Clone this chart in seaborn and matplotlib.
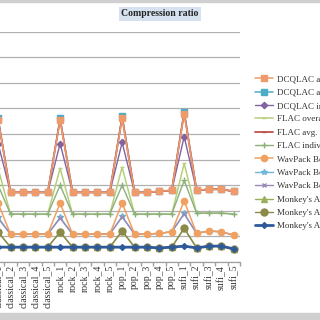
import seaborn as sns
import matplotlib.pyplot as plt
import matplotlib.patches as mpatches
import numpy as np

# categories (x axis)
categories = ['classical_1', 'classical_2', 'classical_3', 'classical_4', 'classical_5',
              'rock_1', 'rock_2', 'rock_3', 'rock_4', 'rock_5',
              'pop_1', 'pop_2', 'pop_3', 'pop_4', 'pop_5',
              'sufi_1', 'sufi_2', 'sufi_3', 'sufi_4', 'sufi_5']

# series values
dcqlac_all = [5.55, 2.72, 2.72, 2.72, 2.72, 5.55, 2.72, 2.72, 2.72, 2.72,
              5.62, 2.72, 2.72, 2.76, 2.80, 5.80, 2.80, 2.84, 2.84, 2.76]
dcqlac_avg = [5.62, 2.72, 2.72, 2.72, 2.72, 5.62, 2.72, 2.72, 2.72, 2.72,
              5.70, 2.72, 2.72, 2.76, 2.80, 5.88, 2.80, 2.84, 2.84, 2.76]
dcqlac_ind = [4.63, 2.72, 2.72, 2.72, 2.72, 4.63, 2.72, 2.72, 2.72, 2.72,
              4.67, 2.72, 2.72, 2.76, 2.80, 4.90, 2.80, 2.84, 2.84, 2.76]
flac_overall = [3.66, 1.87, 1.87, 1.87, 1.87, 3.66, 1.87, 1.87, 1.87, 1.87,
                3.70, 1.87, 1.87, 1.87, 1.87, 3.85, 1.91, 1.91, 1.91, 1.87]
flac_avg = [5.58, 2.72, 2.72, 2.72, 2.72, 5.58, 2.72, 2.72, 2.72, 2.72,
            5.66, 2.72, 2.72, 2.76, 2.80, 5.84, 2.80, 2.84, 2.84, 2.76]
flac_ind = [3.00, 1.87, 1.87, 1.87, 1.87, 3.00, 1.87, 1.87, 1.87, 1.87,
            3.00, 1.87, 1.87, 1.87, 1.87, 3.19, 1.91, 1.91, 1.91, 1.87]
wav_overall = [2.30, 1.09, 1.09, 1.09, 1.09, 2.30, 1.09, 1.09, 1.09, 1.09,
               2.30, 1.09, 1.09, 1.12, 1.18, 2.39, 1.12, 1.21, 1.18, 1.05]
wav_avg = [1.74, 1.09, 1.09, 1.09, 1.09, 1.74, 1.09, 1.09, 1.09, 1.09,
           1.78, 1.09, 1.09, 1.12, 1.18, 1.90, 1.12, 1.21, 1.18, 1.05]
wav_ind = [1.71, 1.09, 1.09, 1.09, 1.09, 1.71, 1.09, 1.09, 1.09, 1.09,
           1.76, 1.09, 1.09, 1.12, 1.18, 1.88, 1.12, 1.21, 1.18, 1.05]
mac_overall = [1.17, 0.58, 0.58, 0.58, 0.58, 1.17, 0.58, 0.58, 0.58, 0.58,
               1.21, 0.58, 0.58, 0.55, 0.58, 1.32, 0.55, 0.62, 0.62, 0.51]
mac_avg = [1.17, 0.58, 0.58, 0.58, 0.58, 1.17, 0.58, 0.58, 0.58, 0.58,
           1.21, 0.58, 0.58, 0.55, 0.58, 1.32, 0.55, 0.62, 0.62, 0.51]
mac_ind = [0.58, 0.58, 0.58, 0.58, 0.58, 0.58, 0.58, 0.58, 0.58, 0.58,
           0.58, 0.58, 0.58, 0.55, 0.58, 0.62, 0.55, 0.62, 0.62, 0.51]

series_names = ['DCQLAC all files', 'DCQLAC avg.', 'DCQLAC individual',
                'FLAC overall', 'FLAC avg.', 'FLAC individual',
                'WavPack Best overall', 'WavPack Best avg.', 'WavPack Best individual',
                "Monkey's Audio overall", "Monkey's Audio avg.", "Monkey's Audio individual"]
series_values = [dcqlac_all, dcqlac_avg, dcqlac_ind, flac_overall, flac_avg, flac_ind,
                 wav_overall, wav_avg, wav_ind, mac_overall, mac_avg, mac_ind]

# style per series: colour, marker, marker size, line width, zorder
styles = [
    ('#EE9A6A', 's', 4.0, 1.1, 3.2),
    ('#4BACC6', 's', 4.0, 1.1, 3.0),
    ('#8064A2', 'D', 3.2, 1.0, 3.1),
    ('#B5CF7A', '_', 3.0, 1.1, 2.5),
    ('#C0504D', '_', 3.0, 1.3, 3.1),
    ('#8CB07A', '+', 4.0, 1.0, 2.6),
    ('#F0A060', 'o', 4.5, 1.1, 2.8),
    ('#6FB7D6', '*', 4.0, 1.0, 2.6),
    ('#9A8AB8', 'x', 3.5, 1.0, 2.7),
    ('#9BAF5A', '^', 4.5, 1.0, 2.4),
    ('#8C8A48', 'o', 5.0, 1.0, 2.45),
    ('#2F5A9A', 'D', 3.0, 2.0, 2.9),
]

sns.set_theme(style='white')
plt.rcParams['font.family'] = ['Liberation Serif', 'DejaVu Serif']

fig = plt.figure(figsize=(3.2, 3.2), dpi=100)
W, H = 320.0, 320.0
x_left, x_right = -8.1, 240.0
y_top, y_bot = 31.7, 262.0
ax = fig.add_axes([x_left / W, 1 - y_bot / H, (x_right - x_left) / W, (y_bot - y_top) / H])

x = np.arange(len(categories))
for name, vals, (col, mk, ms, lw, zo) in zip(series_names, series_values, styles):
    sns.lineplot(x=x, y=vals, ax=ax, color=col, marker=mk, markersize=ms,
                 markeredgecolor=col, markerfacecolor=col, markeredgewidth=1.0,
                 linewidth=lw, label=name, legend=False, zorder=zo)

ax.set_xlim(-0.5, len(categories) - 0.5)
ax.set_ylim(0, 9)
ax.set_yticks(np.arange(0, 10, 1))
ax.set_yticklabels([])
ax.tick_params(axis='y', length=0)
ax.yaxis.grid(True, color='#b0b0b0', linewidth=0.9)
ax.xaxis.grid(False)
for s in ['top', 'right', 'left']:
    ax.spines[s].set_visible(False)
ax.spines['bottom'].set_color('#a0a0a0')
ax.spines['bottom'].set_linewidth(0.9)

ax.set_xticks(x)
ax.set_xticklabels(categories, rotation=90, fontsize=7, color='#333333')
ax.set_xticks(np.arange(-0.5, len(categories), 1), minor=True)
ax.tick_params(axis='x', which='major', length=0, pad=2)
ax.tick_params(axis='x', which='minor', length=3, color='#a0a0a0', bottom=True)
ax.set_xlabel('')
ax.set_ylabel('')

fig.text(160 / W, 1 - 14 / H, 'Compression ratio', ha='center', va='center',
         fontsize=7, fontweight='bold', color='#222222',
         bbox=dict(facecolor='#d6e2f0', edgecolor='none', pad=1.5))

handles, labels = ax.get_legend_handles_labels()
fig.legend(handles, labels, loc='upper left', bbox_to_anchor=(255 / W, 1 - 75 / H),
           frameon=False, fontsize=6.5, handlelength=2.0, handletextpad=0.4,
           labelspacing=0.56, borderpad=0, borderaxespad=0, numpoints=1,
           labelcolor='#333333')

# grey frame bands at top and bottom of the picture
fig.patches.append(mpatches.Rectangle((0, 1 - 2 / H), 1, 2 / H, transform=fig.transFigure,
                                      color='#cfcfcf', zorder=0))
fig.patches.append(mpatches.Rectangle((0, 0), 1, 7 / H, transform=fig.transFigure,
                                      color='#cfcfcf', zorder=0))

fig.savefig('out.png', dpi=100)
